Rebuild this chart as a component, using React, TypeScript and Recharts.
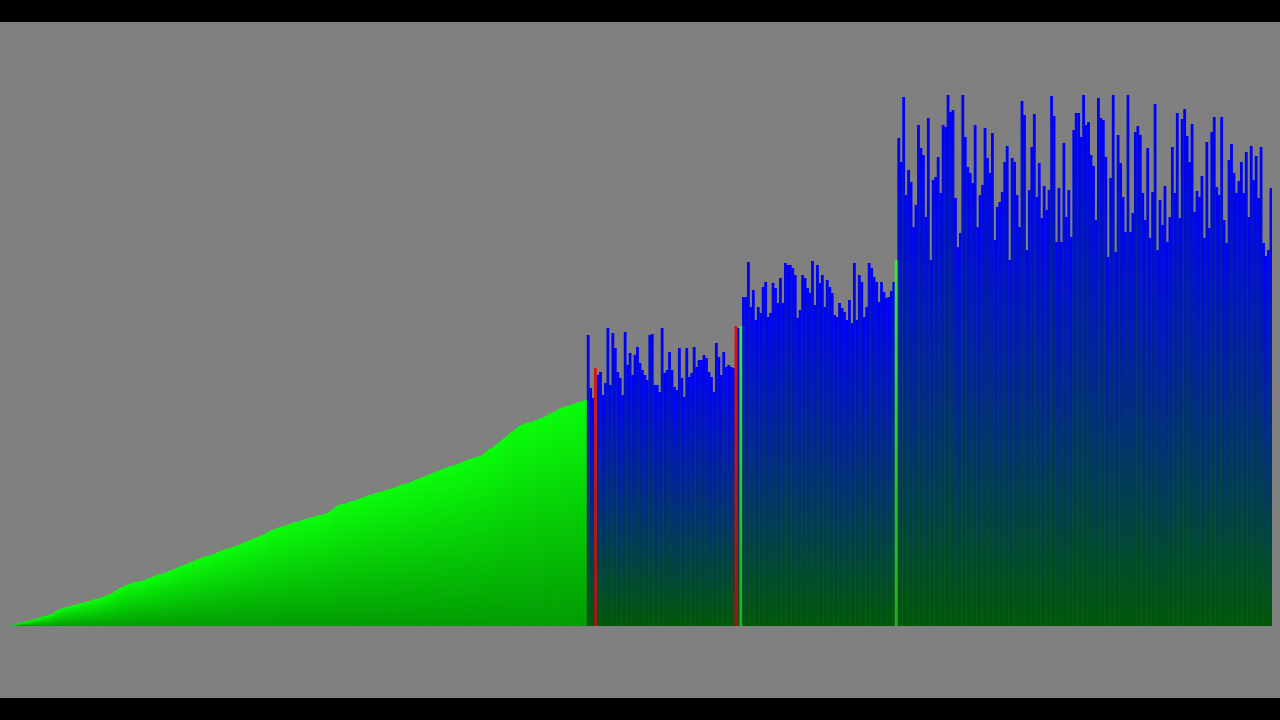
import React from "react";
import { BarChart, Bar, XAxis, YAxis } from "recharts";

// Sorted (green) prefix, ascending
const sortedRun: number[] = [
  1, 1, 2, 3, 4,
  4, 5, 5, 6, 7, 7, 8, 9,
  10, 10, 11, 12, 13,
  15, 16, 17, 18,
  19, 19, 20, 21, 21, 22, 23,
  23, 24, 25, 25, 26, 27, 27, 28,
  29, 30, 31, 32,
  33, 35, 36, 38, 39, 40, 41, 42, 43,
  44, 44, 45, 45, 46,
  47, 48, 49, 50, 51, 52, 52, 53, 54, 55, 56, 57, 58, 59, 60, 61, 62, 63, 64, 65, 66, 67, 68,
  69, 70, 70, 71, 72, 73, 74, 75, 76, 77, 78, 78, 79, 80, 81, 82, 83, 84, 85, 86,
  87, 88, 89, 90, 91, 92, 94, 95, 96, 97, 98, 99, 100, 100, 101, 102, 103,
  104, 104, 105, 106,
  107, 107, 108, 109, 109, 110, 111, 111, 112, 113, 114,
  116, 118, 120, 121,
  122, 122, 123, 124, 125, 125, 126, 127, 128, 129,
  130, 131, 131, 132, 133, 134, 134, 135, 136, 137, 137, 138, 139, 140,
  141, 142, 142, 143, 144,
  145, 146, 147, 148, 149, 150, 151, 152, 153, 154, 155, 156,
  157, 158, 159, 160, 160, 161, 162, 163, 164, 165, 166, 167, 168, 168, 169, 170, 171,
  173, 175, 177, 178, 180, 182, 184, 186,
  188, 190, 192, 194, 196, 198, 200, 201,
  202, 203, 204, 204, 205, 206, 207, 208,
  209, 210, 212, 213, 214, 215, 217, 218,
  219, 220, 220, 221, 222, 223, 224, 224, 225, 226,
];

// First unsorted bucket (ends with the red pivot and one more bar)
const bucketA: number[] = [
  291, 238, 228, 258, 251, 254, 231, 243, 298, 241,
  293, 278, 254, 248, 231, 294, 261, 273, 251, 271,
  279, 263, 256, 251, 246, 291, 292, 241, 241, 234,
  298, 253, 256, 274, 256, 239, 236, 278, 248, 229,
  278, 249, 253, 279, 259, 266, 266, 271, 268, 254,
  249, 234, 283, 269, 251, 274, 259, 261, 259, 258,
  300, 298,
];
const boundaryA = [300];

// Second bucket
const bucketB: number[] = [
  329, 329, 364, 319, 336, 306, 319, 313, 339, 344,
  309, 313, 343, 338, 323, 348, 323, 363, 361, 361,
  358, 351, 308, 316, 351, 348, 338, 333, 365, 321,
  361, 343, 351, 319, 346, 339, 333, 311, 309, 323,
  318, 314, 306, 326, 303, 363, 306, 351, 344, 309,
  319, 363, 358, 349, 344, 324, 344, 334, 328, 329,
  335, 344,
];
const boundaryB = [366];

// Third bucket
const bucketC: number[] = [
  488, 464, 529, 431, 456, 444, 399, 421, 501, 478,
  471, 409, 508, 366, 446, 449, 469, 433, 501, 499,
  531, 514, 516, 428, 379, 393, 531, 489, 459, 453,
  443, 501, 399, 431, 441, 498, 468, 453, 493, 386,
  419, 424, 434, 464, 480, 366, 468, 464, 431, 399,
  525, 511, 376, 436, 479, 512, 429, 463, 408, 440,
  416, 436, 530, 510, 384, 438, 384, 483, 409,
  436, 389, 496, 513, 513, 489, 531, 501, 504, 471,
  460, 406, 528, 508, 506, 469, 369, 448, 531, 374,
  491, 463, 429, 394, 531, 394, 413, 494, 500, 491,
  433, 406, 478,
  388, 434, 522, 376, 426, 401, 440, 384, 409, 479,
  433, 513, 408, 507, 517, 490, 464, 502, 414, 435,
  429, 450, 388, 484, 398, 494, 509, 439, 431, 509,
  406, 383, 466, 482, 453, 433, 445, 464, 433, 474,
  409, 480, 446, 470, 428, 479, 383, 370, 376, 438,
];

const redIndices = [237, 294];
const markIndices = [296, 359];

const allValues = [...sortedRun, ...bucketA, ...boundaryA, ...bucketB, ...boundaryB, ...bucketC];

const data = allValues.map((value, i) => {
  let kind = "unsorted";
  if (i < sortedRun.length) kind = "sorted";
  else if (redIndices.includes(i)) kind = "red";
  else if (markIndices.includes(i)) kind = "mark";
  const special = kind === "red" || kind === "mark";
  return { i, v: special ? 0 : value, hl: special ? value : 0, kind };
});

const CHART_W = 1262;
const CHART_H = 604;

const fillFor = (kind: string) => {
  switch (kind) {
    case "sorted":
      return "url(#gSorted)";
    case "red":
      return "url(#gRed)";
    case "mark":
      return "url(#gMark)";
    default:
      return "url(#gBlue)";
  }
};

const BarShape = (p: any) => {
  if (!p || !(p.height > 0)) return null;
  const kind = p.payload ? p.payload.kind : "unsorted";
  return (
    <rect
      x={p.x}
      y={p.y}
      width={p.width + 0.6}
      height={p.height}
      fill={fillFor(kind)}
    />
  );
};

const HighlightShape = (p: any) => {
  if (!p || !(p.height > 0)) return null;
  const kind = p.payload ? p.payload.kind : "red";
  return (
    <rect
      x={p.x - 0.2}
      y={p.y}
      width={p.width + 0.6}
      height={p.height}
      fill={fillFor(kind)}
    />
  );
};

export default function App() {
  return (
    <div
      style={{
        position: "fixed",
        left: 0,
        top: 0,
        width: 1280,
        height: 720,
        background: "#000000",
        overflow: "hidden",
      }}
    >
      <svg width={0} height={0} style={{ position: "absolute" }}>
        <defs>
          <linearGradient id="gBlue" x1="0" y1="0" x2="0" y2="1">
            <stop offset="0%" stopColor="#0000fa" />
            <stop offset="100%" stopColor="#005808" />
          </linearGradient>
          <linearGradient id="gSorted" x1="0" y1="0" x2="0" y2="1">
            <stop offset="0%" stopColor="#08ff08" />
            <stop offset="100%" stopColor="#009c00" />
          </linearGradient>
          <linearGradient id="gRed" x1="0" y1="0" x2="0" y2="1">
            <stop offset="0%" stopColor="#dd1414" />
            <stop offset="100%" stopColor="#a01414" />
          </linearGradient>
          <linearGradient id="gMark" x1="0" y1="0" x2="0" y2="1">
            <stop offset="0%" stopColor="#33ee33" />
            <stop offset="100%" stopColor="#22aa22" />
          </linearGradient>
        </defs>
      </svg>
      <div
        style={{
          position: "absolute",
          left: 0,
          top: 22,
          width: 1280,
          height: 676,
          background: "#808080",
        }}
      />
      <div style={{ position: "absolute", left: 10, top: 22 }}>
        <BarChart
          width={CHART_W}
          height={CHART_H}
          data={data}
          margin={{ top: 0, right: 0, bottom: 0, left: 0 }}
          barCategoryGap={0}
          barGap={0}
        >
          <XAxis dataKey="i" type="category" hide />
          <YAxis type="number" domain={[0, CHART_H]} allowDataOverflow hide />
          <Bar
            dataKey="v"
            stackId="s"
            isAnimationActive={false}
            barSize={CHART_W / 512}
            shape={BarShape}
          />
          <Bar
            dataKey="hl"
            stackId="s"
            isAnimationActive={false}
            barSize={CHART_W / 512}
            shape={HighlightShape}
          />
        </BarChart>
      </div>
    </div>
  );
}
